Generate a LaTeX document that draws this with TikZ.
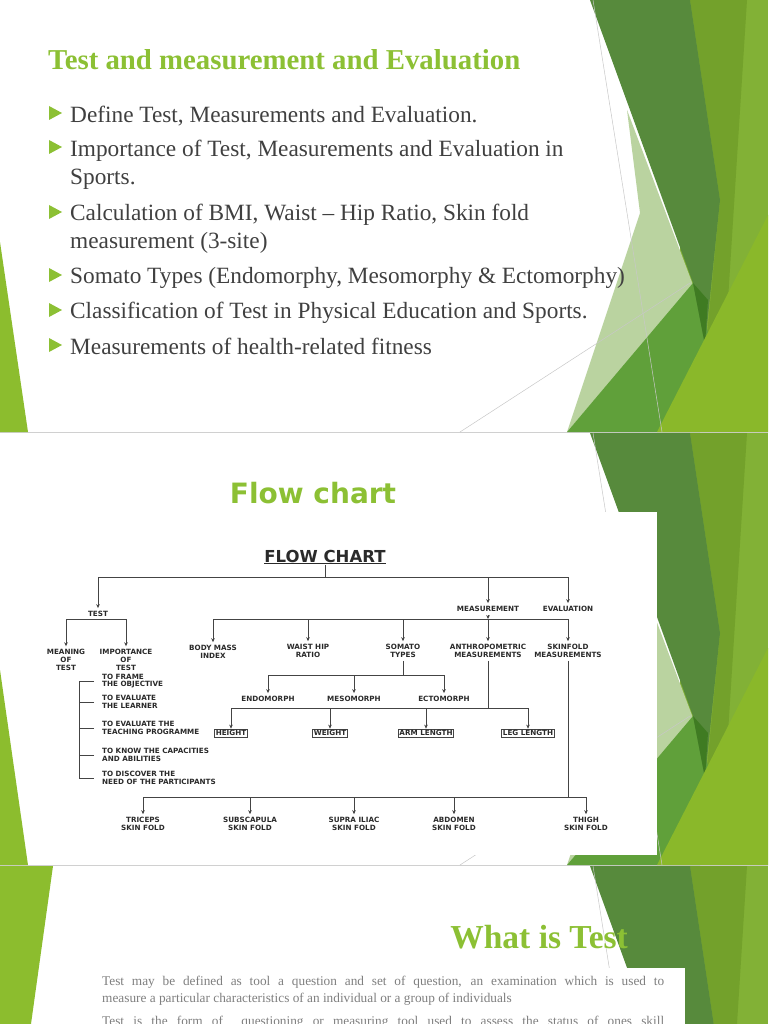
\documentclass[tikz,border=0pt]{standalone}
\usepackage{fontspec}
\setmainfont{Liberation Serif}
\newfontfamily\chartfont{DejaVu Sans}
\usetikzlibrary{arrows.meta}

\definecolor{facetgreen}{HTML}{8CC034}
\definecolor{bodygray}{HTML}{404040}
\definecolor{testgray}{HTML}{7F7F7F}
\definecolor{chartgray}{HTML}{2A2A2A}
\definecolor{chartline}{HTML}{444444}
\definecolor{slidegap}{HTML}{D0D0D0}
\definecolor{decodark}{HTML}{578A3C}
\definecolor{decodeep}{HTML}{3F7B22}
\definecolor{decoolive}{HTML}{73A12B}
\definecolor{decolight}{HTML}{82B136}
\definecolor{decolime}{HTML}{8AB82A}
\definecolor{decomid}{HTML}{60A03A}
\definecolor{decopale}{HTML}{BAD3A0}
\definecolor{decoleft}{HTML}{8CBD2E}
\definecolor{decoline}{HTML}{C8C8C8}

% green facets on the right of every slide (slide coordinates)
\newcommand{\facetdeco}{%
  \fill[decolight] (680,0) rectangle (768,432);
  \fill[decoolive] (690,0) -- (747,0) -- (728,300) -- (706,345) -- (720,200) -- cycle;
  \fill[decopale] (627,110) -- (693,285) -- (567,432) -- (640,213) -- cycle;
  \fill[decomid] (567,432) -- (693,283) -- (712,345) -- (700,432) -- cycle;
  \fill[decodark] (590,0) -- (690,0) -- (720,200) -- (705,345) -- (693,283) -- cycle;
  \fill[decodeep] (693,283) -- (708,300) -- (705,345) -- cycle;
  \fill[decolime] (657,432) -- (768,215) -- (768,432) -- cycle;
  \draw[decoline, line width=0.5pt] (593,0) -- (662,432);
  \draw[decoline, line width=0.5pt] (460,432) -- (690,283);
}

\tikzset{
  slidetitle/.style={font=\bfseries\fontsize{28.8}{34}\selectfont, text=facetgreen, anchor=base west, inner sep=0pt},
  bullettext/.style={font=\fontsize{23.3}{28}\selectfont, text=bodygray, anchor=base west, inner sep=0pt},
  charthead/.style={font=\chartfont\bfseries\fontsize{28}{32}\selectfont, text=facetgreen, anchor=base, inner sep=0pt},
  testtext/.style={font=\fontsize{13.3}{17}\selectfont, text=testgray, anchor=base west, inner sep=0pt},
  charttitle/.style={font=\chartfont\bfseries\fontsize{16.5}{18}\selectfont, text=chartgray, inner sep=0.5pt},
  chartlabel/.style={font=\chartfont\bfseries\fontsize{7.2}{7.8}\selectfont, text=chartgray, align=center, inner xsep=1pt, inner ysep=3pt},
  chartbox/.style={chartlabel, draw=chartline, line width=0.7pt, inner sep=1.3pt},
  chartitem/.style={chartlabel, align=left, anchor=west},
  chartlink/.style={draw=chartline, line width=1pt},
  chartarrow/.style={chartlink, -{Stealth[length=4pt,width=3.6pt]}},
}

\begin{document}
\begin{tikzpicture}[x=1pt,y=-1pt]
\useasboundingbox (0,0) rectangle (768,1024);
\fill[slidegap] (0,0) rectangle (768,1024);

% slide 1
\begin{scope}
  \clip (0,0) rectangle (768,432);
  \fill[white] (0,0) rectangle (768,432);
  \facetdeco
  \fill[decoleft] (0,242) -- (28,432) -- (0,432) -- cycle;
\end{scope}
\node[slidetitle] (title1) at (48,69.5) {Test and measurement and Evaluation};
\foreach \by in {113,147,212,275,310,345}
  \fill[facetgreen] (49,\by-7) -- (62,\by) -- (49,\by+7) -- cycle;
\node[bullettext] (b1) at (70,122.5) {Define Test, Measurements and Evaluation.};
\node[bullettext] (b2) at (70,156.5) {Importance of Test, Measurements and Evaluation in};
\node[bullettext] (b2x) at (70,184.5) {Sports.};
\node[bullettext] (b3) at (70,220.5) {Calculation of BMI, Waist – Hip Ratio, Skin fold};
\node[bullettext] (b3x) at (70,248.5) {measurement (3-site)};
\node[bullettext] (b4) at (70,283.5) {Somato Types (Endomorphy, Mesomorphy \& Ectomorphy)};
\node[bullettext] (b5) at (70,318.5) {Classification of Test in Physical Education and Sports.};
\node[bullettext] (b6) at (70,354.5) {Measurements of health-related fitness};

% slide 2
\begin{scope}[shift={(0,433)}]
  \clip (0,0) rectangle (768,432);
  \fill[white] (0,0) rectangle (768,432);
  \facetdeco
  \fill[decoleft] (0,237) -- (28,432) -- (0,432) -- cycle;
\end{scope}
\node[charthead] (title2) at (313,503) {Flow chart};
\fill[white] (45,512) rectangle (657,855);

% the chart
\node[charttitle] (flowtitle) at (325,557) {\underline{FLOW CHART}};
\coordinate (topbar) at (325,577);
\node[chartlabel] (test) at (98,614) {TEST};
\node[chartlabel] (meaning) at (66,660) {MEANING\\OF\\TEST};
\node[chartlabel] (importance) at (126,660) {IMPORTANCE\\OF\\TEST};
\node[chartlabel] (measurement) at (488,609) {MEASUREMENT};
\node[chartlabel] (evaluation) at (568,609) {EVALUATION};
\coordinate (measbar) at (488,619);
\node[chartlabel] (bmi) at (213,652) {BODY MASS\\INDEX};
\node[chartlabel] (waisthip) at (308,651) {WAIST HIP\\RATIO};
\node[chartlabel] (somato) at (403,651) {SOMATO\\TYPES};
\node[chartlabel] (anthro) at (488,651) {ANTHROPOMETRIC\\MEASUREMENTS};
\node[chartlabel] (skinfold) at (568,651) {SKINFOLD\\MEASUREMENTS};
\coordinate (somabar) at (403,675);
\node[chartlabel] (endo) at (268,699) {ENDOMORPH};
\node[chartlabel] (meso) at (354,699) {MESOMORPH};
\node[chartlabel] (ecto) at (444,699) {ECTOMORPH};
\coordinate (anthbar) at (488,708);
\node[chartbox] (height) at (231,733) {HEIGHT};
\node[chartbox] (weight) at (330,733) {WEIGHT};
\node[chartbox] (armlen) at (426,733) {ARM LENGTH};
\node[chartbox] (leglen) at (528,733) {LEG LENGTH};
\coordinate (foldbar) at (568,797);
\node[chartlabel] (triceps) at (143,824) {TRICEPS\\SKIN FOLD};
\node[chartlabel] (subscap) at (250,824) {SUBSCAPULA\\SKIN FOLD};
\node[chartlabel] (suprailiac) at (354,824) {SUPRA ILIAC\\SKIN FOLD};
\node[chartlabel] (abdomen) at (454,824) {ABDOMEN\\SKIN FOLD};
\node[chartlabel] (thigh) at (586,824) {THIGH\\SKIN FOLD};
\node[chartitem] (aim1) at (101,681) {TO FRAME\\THE OBJECTIVE};
\node[chartitem] (aim2) at (101,702) {TO EVALUATE\\THE LEARNER};
\node[chartitem] (aim3) at (101,728) {TO EVALUATE THE\\TEACHING PROGRAMME};
\node[chartitem] (aim4) at (101,755) {TO KNOW THE CAPACITIES\\AND ABILITIES};
\node[chartitem] (aim5) at (101,778) {TO DISCOVER THE\\NEED OF THE PARTICIPANTS};

\draw[chartlink] (flowtitle) -- (topbar);
\draw[chartarrow] (topbar) -| (test);
\draw[chartarrow] (topbar) -| (measurement);
\draw[chartarrow] (topbar) -| (evaluation);
\draw[chartarrow] (test.south) -| (meaning);
\draw[chartarrow] (test.south) -| (importance);
\draw[chartarrow] (measurement) -- (measbar);
\foreach \n in {bmi,waisthip,somato,anthro,skinfold}
  \draw[chartarrow] (measbar) -| (\n);
\draw[chartlink] (somato) -- (somabar);
\foreach \n in {endo,meso,ecto}
  \draw[chartarrow] (somabar) -| (\n);
\draw[chartlink] (anthro) -- (anthbar);
\foreach \n in {height,weight,armlen,leglen}
  \draw[chartarrow] (anthbar) -| (\n);
\draw[chartlink] (skinfold) -- (foldbar);
\foreach \n in {triceps,subscap,suprailiac,abdomen,thigh}
  \draw[chartarrow] (foldbar) -| (\n);
\draw[chartlink] ([xshift=-7pt]aim1.west) -- ++(-15,0) |- ([xshift=-7pt]aim5.west);
\foreach \n in {aim2,aim3,aim4}
  \draw[chartlink] ([xshift=-7pt]\n.west) -- ++(-15,0);

% slide 3
\begin{scope}[shift={(0,866)}]
  \clip (0,0) rectangle (768,158);
  \fill[white] (0,0) rectangle (768,158);
  \facetdeco
  \fill[decoleft] (0,0) -- (53,0) -- (31,158) -- (0,158) -- cycle;
\end{scope}
\node[slidetitle, anchor=base east, font=\bfseries\fontsize{33.5}{40}\selectfont] (title3) at (628,948) {What is Test};
\fill[white] (95,968) rectangle (685,1024);
\node[testtext] (def1) at (102,985) {\makebox[562pt][s]{Test may be defined as tool a question and set of question, an examination which is used to}};
\node[testtext] (def2) at (102,1002) {measure a particular characteristics of an individual or a group of individuals};
\node[testtext] (def3) at (102,1025) {\makebox[562pt][s]{Test is the form of \ questioning or measuring tool used to assess the status of ones skill}};
\end{tikzpicture}
\end{document}
